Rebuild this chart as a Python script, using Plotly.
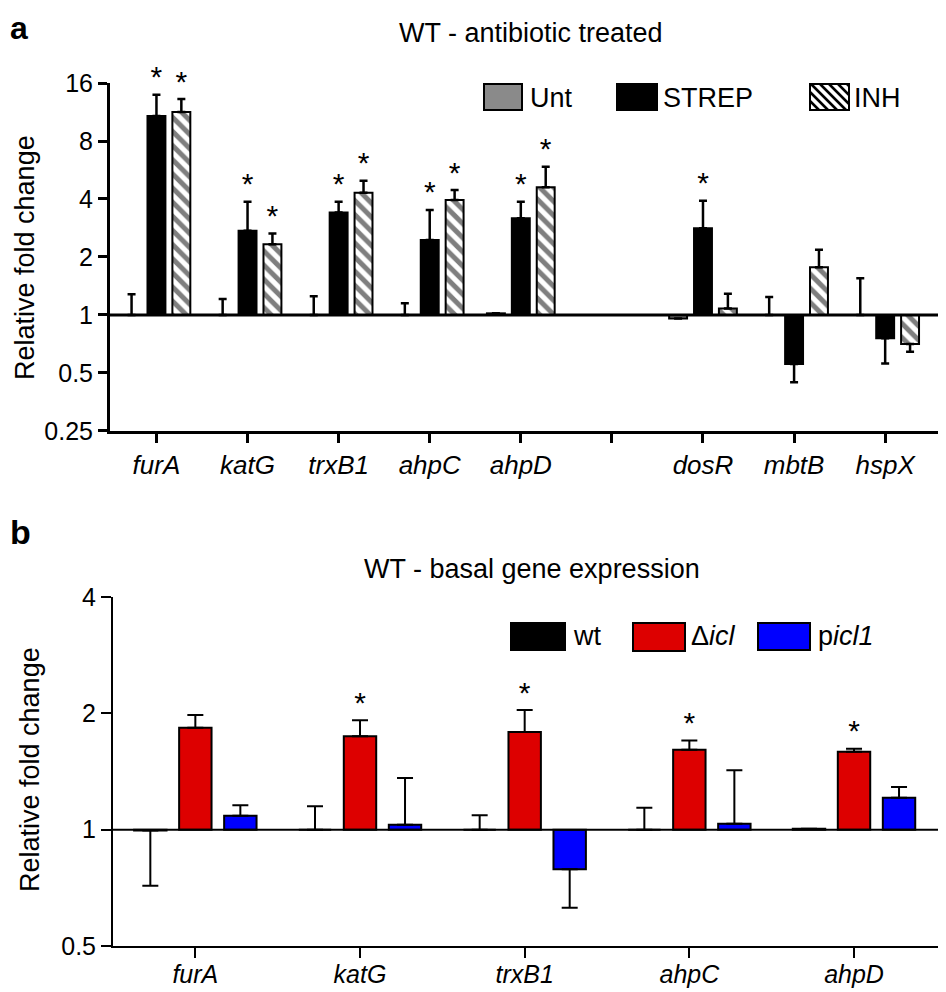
import plotly.graph_objects as go

# the page adds an 8px body margin, so the figure is drawn smaller and shifted
OFF = 8
W, H = 946 - 2 * OFF, 992 - OFF

# ---- panel a data (relative fold change, log2 axis) ----
genes_a = ["furA", "katG", "trxB1", "ahpC", "ahpD", " ", "dosR", "mbtB", "hspX"]
unt_a = [1.0, 1.0, 1.0, 1.0, 1.02, None, 0.96, 1.0, 1.0]
unt_a_err = [1.28, 1.21, 1.25, 1.15, None, None, None, 1.24, 1.55]
strep_a = [10.8, 2.74, 3.40, 2.45, 3.18, None, 2.82, 0.557, 0.757]
strep_a_err = [13.9, 3.87, 3.87, 3.51, 3.87, None, 3.92, 0.447, 0.56]
inh_a = [11.3, 2.33, 4.31, 3.95, 4.6, None, 1.08, 1.77, 0.707]
inh_a_err = [13.2, 2.65, 4.98, 4.45, 5.88, None, 1.29, 2.18, 0.645]
strep_a_sig = [1, 1, 1, 1, 1, 0, 1, 0, 0]
inh_a_sig = [1, 1, 1, 1, 1, 0, 0, 0, 0]

# ---- panel b data ----
genes_b = ["furA", "katG", "trxB1", "ahpC", "ahpD"]
wt_b = [0.995, 1.0, 1.0, 1.0, 1.005]
wt_b_err = [0.716, 1.15, 1.09, 1.14, None]
dicl_b = [1.836, 1.746, 1.79, 1.61, 1.59]
dicl_b_err = [1.98, 1.92, 2.04, 1.70, 1.62]
picl_b = [1.087, 1.03, 0.79, 1.036, 1.21]
picl_b_err = [1.156, 1.36, 0.628, 1.425, 1.29]
dicl_b_sig = [0, 1, 1, 1, 1]

FONT = "Liberation Sans, Arial, sans-serif"


def px(x, y):
    """page pixel -> paper coords"""
    return (x - OFF) / W, 1 - (y - OFF) / H


def errs(vals, ends):
    """one sided error bars pointing away from 1"""
    up, dn = [], []
    for v, e in zip(vals, ends):
        if v is None or e is None:
            up.append(0); dn.append(0)
        elif e >= v:
            up.append(e - v); dn.append(0)
        else:
            up.append(0); dn.append(v - e)
    return up, dn


def bar(x, vals, ends, color, xa, ya, lw, thick, cap, pattern=None):
    up, dn = errs(vals, ends)
    m = dict(color=color, line=dict(color="black", width=lw))
    if pattern:
        m["pattern"] = pattern
    return go.Bar(
        x=x, y=[None if v is None else v - 1 for v in vals], base=1,
        marker=m, xaxis=xa, yaxis=ya, showlegend=False,
        error_y=dict(type="data", symmetric=False, array=up, arrayminus=dn,
                     color="black", thickness=thick, width=cap),
    )


def stars(x, vals, ends, sig, xa, ya, size):
    ys = []
    for v, e, s in zip(vals, ends, sig):
        ys.append((e if e is not None else v) if s else None)
    return go.Scatter(x=x, y=ys, mode="text", text=["*" if s else "" for s in sig],
                      textposition="top center", textfont=dict(size=size, color="black", family=FONT),
                      xaxis=xa, yaxis=ya, showlegend=False, hoverinfo="skip", cliponaxis=False)


fig = go.Figure()
hatch = dict(shape="\\", fgcolor="black", bgcolor="white", size=10, solidity=0.5)
fig.add_trace(bar(genes_a, unt_a, unt_a_err, "#8a8a8a", "x", "y", 2, 2.5, 4))
fig.add_trace(bar(genes_a, strep_a, strep_a_err, "black", "x", "y", 2, 2.5, 4))
fig.add_trace(bar(genes_a, inh_a, inh_a_err, "white", "x", "y", 2, 2.5, 4, hatch))
fig.add_trace(stars(genes_a, unt_a, unt_a_err, [0] * 9, "x", "y", 30))
fig.add_trace(stars(genes_a, strep_a, strep_a_err, strep_a_sig, "x", "y", 30))
fig.add_trace(stars(genes_a, inh_a, inh_a_err, inh_a_sig, "x", "y", 30))

fig.add_trace(bar(genes_b, wt_b, wt_b_err, "black", "x2", "y2", 2, 2, 8))
fig.add_trace(bar(genes_b, dicl_b, dicl_b_err, "#dd0000", "x2", "y2", 2, 2, 8))
fig.add_trace(bar(genes_b, picl_b, picl_b_err, "#0000ff", "x2", "y2", 2, 2, 8))
fig.add_trace(stars(genes_b, wt_b, wt_b_err, [0] * 5, "x2", "y2", 30))
fig.add_trace(stars(genes_b, dicl_b, dicl_b_err, dicl_b_sig, "x2", "y2", 30))
fig.add_trace(stars(genes_b, picl_b, picl_b_err, [0] * 5, "x2", "y2", 30))

ticks_a = [0.25, 0.5, 1, 2, 4, 8, 16]
ticks_b = [0.5, 1, 2, 4]
tickfont = dict(family=FONT, size=25, color="black")
catfont = dict(family=FONT, size=26, color="black")
catfont_b = dict(family=FONT, size=25, color="black")

xa0, ya1 = px(110, 83)
xa1, ya0 = px(941, 431)
xb0, yb1 = px(113, 597)
xb1, yb0 = px(945, 946)

fig.update_layout(
    width=W, height=H, margin=dict(l=0, r=0, t=0, b=0, autoexpand=False),
    paper_bgcolor="white", plot_bgcolor="white",
    barmode="group", bargap=0.18, bargroupgap=0.28, scattermode="group",
    font=dict(family=FONT, color="black"),
    xaxis=dict(domain=[xa0, min(xa1, 1)], anchor="y", type="category", automargin=False,
               categoryorder="array", categoryarray=genes_a, range=[-0.51, 8.58],
               tickvals=genes_a, ticktext=["<i>%s</i>" % g for g in genes_a],
               showline=True, linecolor="black", linewidth=3, ticks="outside",
               ticklen=9, tickwidth=3, tickcolor="black", tickfont=catfont,
               showgrid=False, zeroline=False),
    yaxis=dict(domain=[ya0, ya1], anchor="x", type="log", automargin=False,
               range=[-0.6021, 1.2041], tickvals=ticks_a, ticktext=[str(t) for t in ticks_a],
               showline=True, linecolor="black", linewidth=3, ticks="outside",
               ticklen=9, tickwidth=3, tickcolor="black", tickfont=tickfont,
               showgrid=False, zeroline=False),
    xaxis2=dict(domain=[xb0, min(xb1, 1)], anchor="y2", type="category", automargin=False,
                categoryorder="array", categoryarray=genes_b, range=[-0.5, 4.51],
                tickvals=genes_b, ticktext=["<i>%s</i>" % g for g in genes_b],
                showline=True, linecolor="black", linewidth=2, ticks="outside",
                ticklen=10, tickwidth=2, tickcolor="black", tickfont=catfont_b,
                ticklabelstandoff=-5,
                showgrid=False, zeroline=False),
    yaxis2=dict(domain=[yb0, yb1], anchor="x2", type="log", automargin=False,
                range=[-0.30103, 0.60206], tickvals=ticks_b, ticktext=[str(t) for t in ticks_b],
                showline=True, linecolor="black", linewidth=2, ticks="outside",
                ticklen=10, tickwidth=2, tickcolor="black", tickfont=tickfont,
                showgrid=False, zeroline=False),
)

shapes = [
    dict(type="line", xref="x domain", yref="y", x0=0, x1=1, y0=1, y1=1,
         line=dict(color="black", width=3)),
    dict(type="line", xref="x2 domain", yref="y2", x0=0, x1=1, y0=1, y1=1,
         line=dict(color="black", width=2)),
]
ann = []


def legend_box(x0, y0, x1, y1, fill, lw=2, hatch=False):
    a, b = px(x0, y0)
    c, d = px(x1, y1)
    shapes.append(dict(type="rect", xref="paper", yref="paper", x0=a, y0=d, x1=c, y1=b,
                       fillcolor=fill, line=dict(color="black", width=lw), layer="above"))
    if hatch:
        step = 9
        k = x0 - (y1 - y0)
        while k < x1:
            sx, sy = k, y0
            ex, ey = k + (y1 - y0), y1
            if sx < x0:
                sy += x0 - sx; sx = x0
            if ex > x1:
                ey -= ex - x1; ex = x1
            if ex > sx:
                p, q = px(sx, sy)
                r, s = px(ex, ey)
                shapes.append(dict(type="line", xref="paper", yref="paper", x0=p, y0=q, x1=r, y1=s,
                                   line=dict(color="black", width=2.5)))
            k += step


def text(x, y, s, size, anchor="left", bold=False, angle=0, yanchor="middle"):
    a, b = px(x, y)
    ann.append(dict(xref="paper", yref="paper", x=max(a, 0), y=min(b, 1), text=s, showarrow=False,
                    xanchor=anchor, yanchor=yanchor, textangle=angle,
                    font=dict(family=FONT, size=size, color="black",
                              weight="bold" if bold else "normal")))


# panel a legend
legend_box(484, 84, 522, 110, "#8a8a8a")
text(528, 98, "Unt", 27)
legend_box(617, 84, 657, 110, "black")
text(661, 98, "STREP", 27)
legend_box(810, 84, 849, 110, "white", hatch=True)
text(852, 98, "INH", 27)

# panel b legend
legend_box(511, 623, 565, 650, "black")
text(571, 636, "wt", 27)
legend_box(633, 623, 685, 651, "#dd0000")
text(689, 636, "Δ<i>icl</i>", 27)
legend_box(758, 623, 810, 650, "#0000ff")
text(816, 636, "p<i>icl1</i>", 27)

# axis titles
text(25, 258, "Relative fold change", 27, anchor="center", angle=-90)
text(30, 770, "Relative fold change", 27, anchor="center", angle=-90)

text(531, 33, "WT - antibiotic treated", 27, anchor="center")
text(532, 569, "WT - basal gene expression", 27, anchor="center")
text(0, 0, "a", 32, bold=True, yanchor="top")
text(0, 532, "b", 34, bold=True)

fig.update_layout(shapes=shapes, annotations=ann)
fig.write_html("out.html")
